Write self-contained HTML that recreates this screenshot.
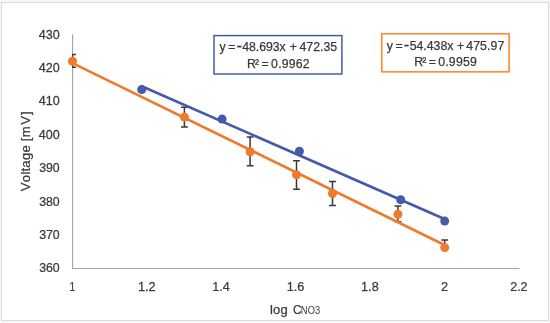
<!DOCTYPE html><html><head><meta charset="utf-8"><title>chart</title>
<style>html,body{margin:0;padding:0;background:#fff;}svg{display:block;}text{font-family:"Liberation Sans",sans-serif;fill:#3a3a3a;font-kerning:none;stroke:#3a3a3a;stroke-width:0.25px;}</style></head><body>
<svg width="550" height="323" viewBox="0 0 550 323">
<rect x="0" y="0" width="550" height="323" fill="#f8f7f5"/>
<rect x="1.5" y="2.5" width="547" height="318" fill="#ffffff" stroke="#dddbd9" stroke-width="1"/>
<path d="M72.6 34.3V268.5H519.2" fill="none" stroke="#a8a3a0" stroke-width="1.1"/>
<text transform="translate(39.13 272.37) scale(1.0039 1.0000)" font-size="12.3">360</text>
<text transform="translate(39.13 238.96) scale(1.0039 1.0000)" font-size="12.3">370</text>
<text transform="translate(39.13 205.55) scale(1.0039 1.0000)" font-size="12.3">380</text>
<text transform="translate(39.13 172.14) scale(1.0039 1.0000)" font-size="12.3">390</text>
<text transform="translate(38.81 138.73) scale(1.0198 1.0000)" font-size="12.3">400</text>
<text transform="translate(38.81 105.32) scale(1.0198 1.0000)" font-size="12.3">410</text>
<text transform="translate(38.81 71.91) scale(1.0198 1.0000)" font-size="12.3">420</text>
<text transform="translate(38.81 38.50) scale(1.0198 1.0000)" font-size="12.3">430</text>
<text transform="translate(69.42 290.60) scale(0.8297 1.0000)" font-size="12.3">1</text>
<text transform="translate(137.88 290.60) scale(1.0358 1.0000)" font-size="12.3">1.2</text>
<text transform="translate(212.30 290.60) scale(1.0189 1.0000)" font-size="12.3">1.4</text>
<text transform="translate(286.68 290.60) scale(1.0306 1.0000)" font-size="12.3">1.6</text>
<text transform="translate(361.08 290.60) scale(1.0303 1.0000)" font-size="12.3">1.8</text>
<text transform="translate(440.96 290.60) scale(1.0351 1.0000)" font-size="12.3">2</text>
<text transform="translate(510.22 290.60) scale(1.0150 1.0000)" font-size="12.3">2.2</text>
<text y="0.00" font-size="13.1" transform="translate(29.75 0) rotate(-90) scale(1.0 1)" x="-191.36 -182.20 -174.57 -171.51 -167.70 -160.06 -152.43 -150.43 -141.25 -137.14 -124.82 -114.96">Voltage [mV]</text>
<text y="313.90" font-size="13.0" x="269.98 273.01 280.59">log</text>
<text y="313.90" font-size="13.0" transform="scale(0.91 1)" x="321.88 330.45 338.06 346.25">C<tspan font-size="10.3" stroke="none">NO3</tspan></text>
<clipPath id="pa"><rect x="72" y="20" width="460" height="249"/></clipPath>
<g clip-path="url(#pa)" stroke="#383838" stroke-width="1.5" fill="none">
<path d="M72.5 54.5V67.3M69.1 54.5H75.9M69.1 67.3H75.9"/>
<path d="M184.4 107.3V127.0M181.0 107.3H187.8M181.0 127.0H187.8"/>
<path d="M250.1 137.0V165.7M246.7 137.0H253.5M246.7 165.7H253.5"/>
<path d="M296.5 160.7V189.3M293.1 160.7H299.9M293.1 189.3H299.9"/>
<path d="M332.5 181.6V205.5M329.1 181.6H335.9M329.1 205.5H335.9"/>
<path d="M397.9 206.0V221.8M394.5 206.0H401.3M394.5 221.8H401.3"/>
<path d="M444.7 240.1V247.6M441.3 240.1H448.1"/>
</g>
<line x1="72.5" y1="63.1" x2="444.5" y2="245.0" stroke="#ee7a2e" stroke-width="2.7"/>
<line x1="141.2" y1="86.1" x2="444.5" y2="218.95" stroke="#465aaa" stroke-width="2.7"/>
<circle cx="141.7" cy="89.6" r="4.5" fill="#465aaa"/>
<circle cx="222.1" cy="119.1" r="4.5" fill="#465aaa"/>
<circle cx="299.4" cy="151.2" r="4.5" fill="#465aaa"/>
<circle cx="400.7" cy="199.8" r="4.5" fill="#465aaa"/>
<circle cx="444.7" cy="221.1" r="4.5" fill="#465aaa"/>
<circle cx="72.5" cy="61.2" r="4.5" fill="#ee7a2e"/>
<circle cx="184.4" cy="117.1" r="4.5" fill="#ee7a2e"/>
<circle cx="250.1" cy="151.7" r="4.5" fill="#ee7a2e"/>
<circle cx="296.5" cy="174.8" r="4.5" fill="#ee7a2e"/>
<circle cx="332.5" cy="193.5" r="4.5" fill="#ee7a2e"/>
<circle cx="397.9" cy="214.3" r="4.5" fill="#ee7a2e"/>
<circle cx="444.7" cy="247.6" r="4.5" fill="#ee7a2e"/>
<rect x="214.0" y="35.6" width="127.9" height="38.4" fill="#fff" stroke="#4154a6" stroke-width="1.45"/>
<text y="51.40" font-size="12.3" x="219.47 221.47 228.19 230.19 236.44 242.32 249.07 255.83 259.20 265.95 272.71 279.46 281.46 289.73 291.73 299.52 306.37 313.23 320.08 323.51 330.36">y = <tspan font-size="16.5">-</tspan>48.693x + 472.35</text>
<text y="67.60" font-size="12.3" x="246.97 255.06 257.06 261.60 263.60 271.11 278.15 281.67 288.71 295.75 302.79">R² = 0.9962</text>
<rect x="381.75" y="33.75" width="127.35" height="38.05" fill="#fff" stroke="#f5923c" stroke-width="1.7"/>
<text y="49.60" font-size="12.3" x="386.67 388.67 395.39 397.39 403.64 409.71 416.53 423.34 426.75 433.57 440.38 447.20 449.20 456.93 458.93 466.21 473.14 480.07 487.00 490.47 497.40">y = <tspan font-size="16.5">-</tspan>54.438x + 475.97</text>
<text y="66.20" font-size="12.3" x="414.17 422.26 424.26 428.80 430.80 438.31 445.34 448.86 455.89 462.93 469.96">R² = 0.9959</text>
</svg></body></html>
